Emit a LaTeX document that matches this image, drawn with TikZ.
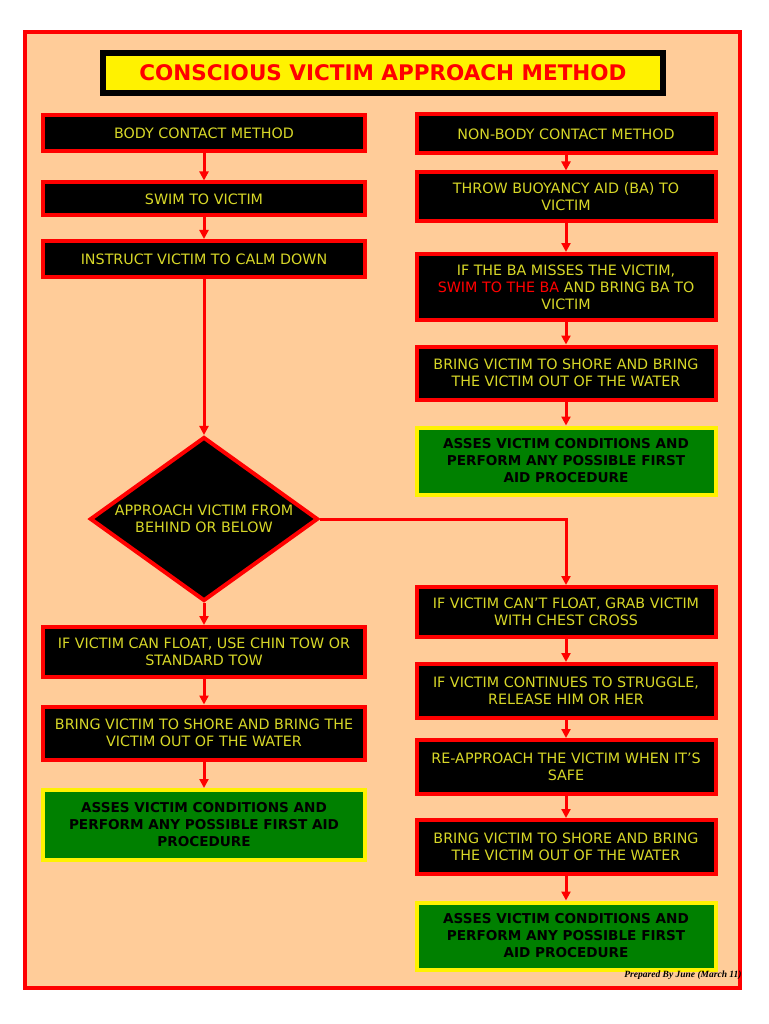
\documentclass[tikz,border=0pt]{standalone}
\usepackage{fontspec}
\setmainfont{DejaVu Sans}
\newfontfamily\notefont{Liberation Serif}
\usetikzlibrary{shapes.geometric,arrows.meta,positioning}
\definecolor{peach}{RGB}{255,204,153}
\definecolor{boxtext}{RGB}{215,215,40}
\definecolor{okgreen}{RGB}{0,128,0}
\definecolor{alarm}{RGB}{255,0,0}
\begin{document}
\begin{tikzpicture}[x=1pt,y=-1pt,>={Triangle[length=9pt,width=9pt]}]
\tikzset{
action/.style   = {draw=alarm, line width=4pt, fill=black, text=boxtext, align=center, inner sep=0pt, font=\fontsize{14.3}{17}\selectfont},
safe/.style     = {draw=yellow, line width=4pt, fill=okgreen, text=black, align=center, inner sep=0pt, font=\bfseries\fontsize{13.6}{17}\selectfont},
decide/.style   = {draw=alarm, line width=4pt, fill=black, diamond, inner sep=0pt, minimum width=228pt, minimum height=164pt},
flow/.style     = {draw=alarm, line width=3pt, ->},
}
    \useasboundingbox (0,0) rectangle (768,1024);
    \draw [alarm, line width=4pt, fill=peach] (25,32) rectangle (740,988);

    % Title
    \node [draw=black, line width=6pt, fill=yellow, minimum width=560pt, minimum height=40pt, text=alarm, font=\bfseries\fontsize{21.5}{24}\selectfont] (title) at (383,73) {CONSCIOUS VICTIM APPROACH METHOD};

    % Left column
    \node [action, minimum width=322pt, minimum height=36pt] (body)    at (204,133) {BODY CONTACT METHOD};
    \node [action, minimum width=322pt, minimum height=33pt] (swim)    at (204,199) {SWIM TO VICTIM};
    \node [action, minimum width=322pt, minimum height=36pt] (calm)    at (204,259) {INSTRUCT VICTIM TO CALM DOWN};
    \node [decide]                                            (behind)  at (204,519) {};
    \node [text=boxtext, align=center, font=\fontsize{14.3}{17}\selectfont] (behindtxt) at (behind.center) {APPROACH VICTIM FROM\\BEHIND OR BELOW};
    \node [action, minimum width=322pt, minimum height=50pt] (float)   at (204,652) {IF VICTIM CAN FLOAT, USE CHIN TOW OR\\STANDARD TOW};
    \node [action, minimum width=322pt, minimum height=53pt] (shoreL)  at (204,733) {BRING VICTIM TO SHORE AND BRING THE\\VICTIM OUT OF THE WATER};
    \node [safe, minimum width=322pt, minimum height=70pt]   (aidL)    at (204,825) {ASSES VICTIM CONDITIONS AND\\PERFORM ANY POSSIBLE FIRST AID\\PROCEDURE};

    % Right column
    \node [action, minimum width=299pt, minimum height=39pt] (nonbody) at (566,134) {NON-BODY CONTACT METHOD};
    \node [action, minimum width=299pt, minimum height=49pt] (throw)   at (566,197) {THROW BUOYANCY AID (BA) TO\\VICTIM};
    \node [action, minimum width=299pt, minimum height=66pt] (miss)    at (566,287) {IF THE BA MISSES THE VICTIM,\\\textcolor{alarm}{SWIM TO THE BA} AND BRING BA TO\\VICTIM};
    \node [action, minimum width=299pt, minimum height=53pt] (shoreR)  at (566,373) {BRING VICTIM TO SHORE AND BRING\\THE VICTIM OUT OF THE WATER};
    \node [safe, minimum width=299pt, minimum height=67pt]   (aidR)    at (566,461) {ASSES VICTIM CONDITIONS AND\\PERFORM ANY POSSIBLE FIRST\\AID PROCEDURE};
    \node [action, minimum width=299pt, minimum height=50pt] (cross)   at (566,612) {IF VICTIM CAN'T FLOAT, GRAB VICTIM\\WITH CHEST CROSS};
    \node [action, minimum width=299pt, minimum height=54pt] (release) at (566,691) {IF VICTIM CONTINUES TO STRUGGLE,\\RELEASE HIM OR HER};
    \node [action, minimum width=299pt, minimum height=54pt] (again)   at (566,767) {RE-APPROACH THE VICTIM WHEN IT'S\\SAFE};
    \node [action, minimum width=299pt, minimum height=54pt] (shoreC)  at (566,847) {BRING VICTIM TO SHORE AND BRING\\THE VICTIM OUT OF THE WATER};
    \node [safe, minimum width=299pt, minimum height=67pt]   (aidC)    at (566,936) {ASSES VICTIM CONDITIONS AND\\PERFORM ANY POSSIBLE FIRST\\AID PROCEDURE};

    \node [font=\notefont\itshape\bfseries\fontsize{9.5}{10}\selectfont] (note) at (683,975) {Prepared By June (March 11)};

    % Connectors
    \draw [flow] (body)    -- (swim);
    \draw [flow] (swim)    -- (calm);
    \draw [flow] (calm)    -- (behind);
    \draw [flow] (behind)  -- (float);
    \draw [flow] (float)   -- (shoreL);
    \draw [flow] (shoreL)  -- (aidL);
    \draw [flow] (nonbody) -- (throw);
    \draw [flow] (throw)   -- (miss);
    \draw [flow] (miss)    -- (shoreR);
    \draw [flow] (shoreR)  -- (aidR);
    \draw [flow] (behind.east) -| (cross);
    \draw [flow] (cross)   -- (release);
    \draw [flow] (release) -- (again);
    \draw [flow] (again)   -- (shoreC);
    \draw [flow] (shoreC)  -- (aidC);
\end{tikzpicture}
\end{document}
